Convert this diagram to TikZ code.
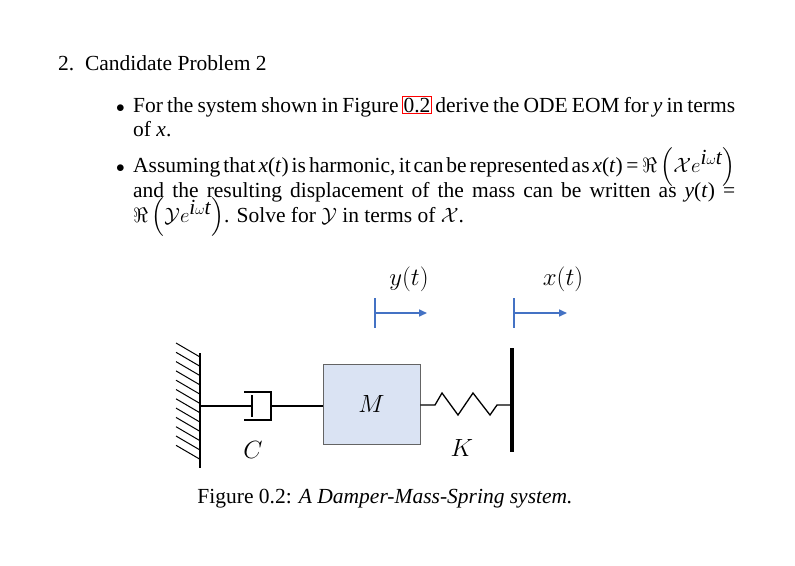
\documentclass[tikz,border=0pt]{standalone}
\usepackage{fontspec}
\setmainfont{Liberation Serif}
\usepackage{amssymb}
\usetikzlibrary{arrows.meta}
\newcommand{\vx}{\textit{x}(\textit{t})}
\newcommand{\vy}{\textit{y}(\textit{t})}
\newcommand{\tightsp}{\spaceskip=0.2em plus 1em minus 0.1em\relax}
\begin{document}
\begin{tikzpicture}[x=1pt,y=-1pt,
  txt/.style={anchor=base west,inner sep=0pt,font=\fontsize{21.5}{26}\selectfont},
  mlab/.style={inner sep=0pt,font=\fontsize{36}{40}\selectfont},
  blu/.style={draw={rgb,255:red,68;green,114;blue,196},line width=1.6pt},
  mech/.style={line width=1.3pt}]
\useasboundingbox (0,0) rectangle (795,565);
\node[txt] (h) at (58,70) {2.\ \ Candidate Problem 2};
\node[txt,font=\fontsize{16}{20}\selectfont] (b1) at (116,112) {$\bullet$};
\node[txt] (l1) at (133,112) {\tightsp\hbox to 602pt{For the system shown in Figure\,\fboxsep=1pt\textcolor{red}{\fbox{\textcolor{black}{0.2}}}\,derive the ODE EOM for \textit{y} in terms}};
\node[txt] (l2) at (133,136) {of \textit{x}.};
\node[txt,font=\fontsize{16}{20}\selectfont] (b2) at (116,172) {$\bullet$};
\node[txt] (l3) at (133,172) {\tightsp\hbox to 602pt{Assuming that \vx{} is harmonic, it can be represented as \vx\,=\,$\Re\left(\mathcal{X}e^{\textit{i}\omega \textit{t}}\right)$}};
\node[txt] (l4) at (133,197) {\tightsp\hbox to 602pt{and the resulting displacement of the mass can be written as \vy{} =}};
\node[txt] (l5) at (133,222) {$\Re\left(\mathcal{Y}e^{\textit{i}\omega \textit{t}}\right)$. Solve for $\mathcal{Y}$ in terms of $\mathcal{X}$.};
% wall
\coordinate (wt) at (200,353); \coordinate (wb) at (200,468);
\draw[mech] (wt) -- (wb);
\foreach \k in {0,...,11} \draw[line width=1pt] (200,357+9.3*\k) -- (176,343+9.3*\k);
% damper
\coordinate (w0) at (200,406); \coordinate (pist) at (252,406);
\draw[mech] (w0) -- (pist);
\draw[mech] (252,395) -- (252,417);
\draw[mech] (244,392) -- (271,392) -- (271,420) -- (244,420);
% mass
\node[draw={rgb,255:red,100;green,100;blue,100},line width=0.9pt,fill={rgb,255:red,218;green,227;blue,243},minimum width=97pt,minimum height=80pt,inner sep=0pt] (m) at (371.5,404) {};
\node[mlab] (ml) at (m.center) {$M$};
\draw[mech] (271,406) -- (m.west |- 0,406);
% spring
\coordinate (bar) at (512,405);
\draw[mech] (m.east |- 0,405) -- (435,405) -- (442,393) -- (458,415) -- (473,393) -- (490,415) -- (497,405) -- (bar);
\draw[line width=3.5pt] (512,348) -- (512,452);
\node[mlab] (C) at (253,450) {$C$};
\node[mlab] (K) at (462,448) {$K$};
% arrows
\node[mlab] (yt) at (409,279) {$y(t)$};
\node[mlab] (xt) at (563,279) {$x(t)$};
\draw[blu] (375,298) -- (375,328);
\draw[blu,-{Triangle[length=8pt,width=7pt]}] (375,313) -- (427,313);
\draw[blu] (514,298) -- (514,328);
\draw[blu,-{Triangle[length=8pt,width=7pt]}] (514,313) -- (567,313);
\node[txt,anchor=base] (cap) at (385,503) {Figure 0.2: \textit{A Damper-Mass-Spring system.}};
\end{tikzpicture}
\end{document}
